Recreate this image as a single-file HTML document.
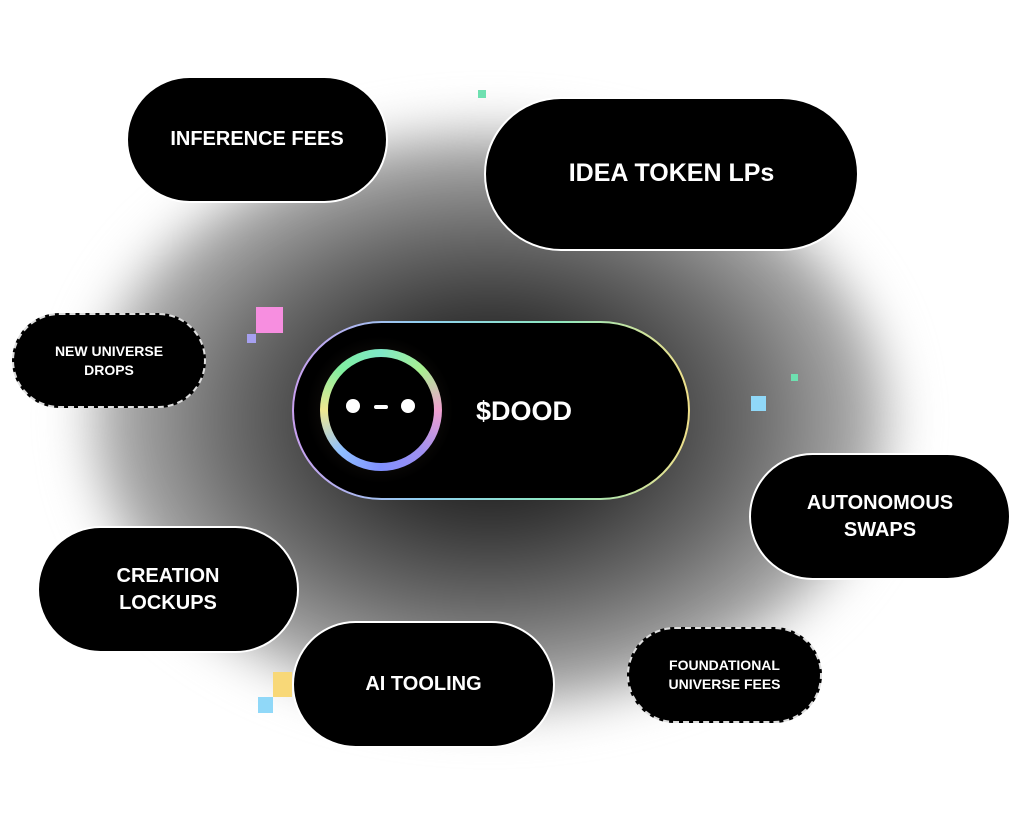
<!DOCTYPE html>
<html><head><style>
html,body{margin:0;padding:0}
body{width:1024px;height:825px;position:relative;overflow:hidden;background:#fff;font-family:"Liberation Sans",sans-serif;}
.bg{position:absolute;left:90px;top:130px;width:800px;height:580px;border-radius:50%;background:radial-gradient(ellipse at center,#151515 0%,#2e2e2e 22%,#707070 48%,#c0c0c0 72%,#fff 100%);filter:blur(25px);}
.p{position:absolute;background:#000;color:#fff;border:2px solid #fff;box-sizing:border-box;display:flex;align-items:center;justify-content:center;text-align:center;font-weight:bold;border-radius:999px;line-height:1.35}
.d{border:2px dashed #ddd}
.sq{position:absolute}
</style></head><body>
<div class="bg"></div>
<div class="p" style="left:126px;top:76px;width:262px;height:127px;font-size:20px">INFERENCE FEES</div>
<div class="p" style="left:484px;top:97px;width:375px;height:154px;font-size:25px">IDEA TOKEN LPs</div>
<div class="p d" style="left:12px;top:313px;width:194px;height:95px;font-size:14px">NEW UNIVERSE<br>DROPS</div>
<div class="p" style="left:749px;top:453px;width:262px;height:127px;font-size:20px">AUTONOMOUS<br>SWAPS</div>
<div class="p" style="left:37px;top:526px;width:262px;height:127px;font-size:20px">CREATION<br>LOCKUPS</div>
<div class="p" style="left:292px;top:621px;width:263px;height:127px;font-size:20px">AI TOOLING</div>
<div class="p d" style="left:627px;top:627px;width:195px;height:96px;font-size:14px">FOUNDATIONAL<br>UNIVERSE FEES</div>
<div style="position:absolute;left:292px;top:321px;width:398px;height:179px;border-radius:90px;background:linear-gradient(90deg,#c9a0f0,#8fd0f0,#8ee8c0,#f0e08a);"></div>
<div style="position:absolute;left:294px;top:323px;width:394px;height:175px;border-radius:88px;background:#000;"></div>
<div style="position:absolute;left:300px;top:330px;width:160px;height:160px;border-radius:50%;background:radial-gradient(circle,rgba(120,100,80,.35),rgba(0,0,0,0) 65%)"></div>
<div style="position:absolute;left:320px;top:349px;width:122px;height:122px;border-radius:50%;background:conic-gradient(from 0deg,#7ee8c8,#a8f090,#f0a0d0,#a090f0,#8090ff,#90c0ff,#f0e890,#80f0a0,#7ee8c8);"></div>
<div style="position:absolute;left:328px;top:357px;width:106px;height:106px;border-radius:50%;background:#000;"></div>
<div style="position:absolute;left:346px;top:399px;width:14px;height:14px;border-radius:50%;background:#fff"></div>
<div style="position:absolute;left:401px;top:399px;width:14px;height:14px;border-radius:50%;background:#fff"></div>
<div style="position:absolute;left:374px;top:405px;width:14px;height:4px;border-radius:2px;background:#fff"></div>
<div style="position:absolute;left:476px;top:396px;color:#fff;font-weight:bold;font-size:27px">$DOOD</div>
<div class="sq" style="left:256px;top:307px;width:27px;height:26px;background:#f78ee0"></div>
<div class="sq" style="left:247px;top:334px;width:9px;height:9px;background:#a6a0f0"></div>
<div class="sq" style="left:478px;top:90px;width:8px;height:8px;background:#6ee0b0"></div>
<div class="sq" style="left:791px;top:374px;width:7px;height:7px;background:#6ee0b0"></div>
<div class="sq" style="left:751px;top:396px;width:15px;height:15px;background:#90d8f8"></div>
<div class="sq" style="left:273px;top:672px;width:19px;height:25px;background:#f8d878"></div>
<div class="sq" style="left:258px;top:697px;width:15px;height:16px;background:#90d8f8"></div>
</body></html>
